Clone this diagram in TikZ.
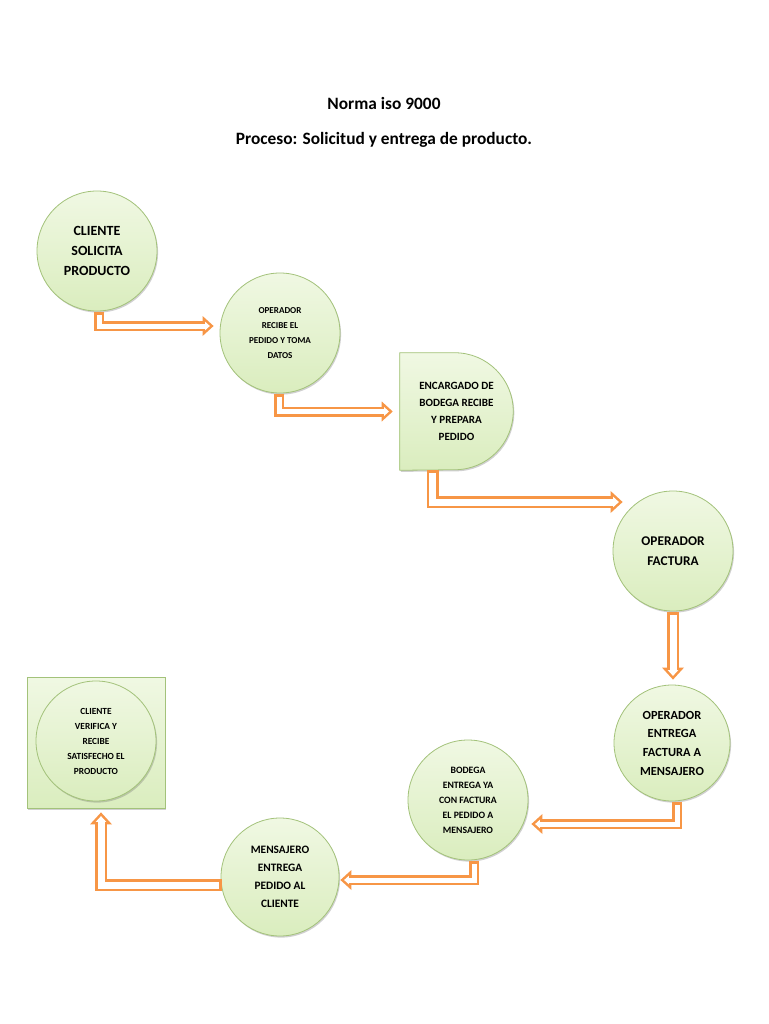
\documentclass[tikz,border=0pt]{standalone}
\usepackage{fontspec}
\setmainfont{Carlito}
\usetikzlibrary{arrows.meta,calc,shadows}
\definecolor{arr}{HTML}{F79646}
\definecolor{gborder}{HTML}{A3C27A}
\definecolor{gtop}{HTML}{F0F8E3}
\definecolor{gbot}{HTML}{DAEDBE}
\tikzset{
  gfill/.style={draw=gborder, line width=0.6pt, top color=gtop, bottom color=gbot,
    drop shadow={shadow xshift=0.8pt, shadow yshift=-1.2pt, opacity=0.3, fill=black!60}},
  proc/.style={circle, gfill, align=center, inner sep=0pt, minimum size=90pt, font=\bfseries},
  titletext/.style={font=\fontsize{13}{15}\selectfont\bfseries},
  arrOutS/.style={draw=arr, line width=7.5pt, line join=miter, -{Triangle[width=15pt,length=8.25pt,line width=0pt]}},
  arrInS/.style={draw=white, line width=3.75pt, line join=miter, shorten <=1.9pt, shorten >=2.8pt, -{Triangle[width=6.5pt,length=3.6pt,line width=0pt]}},
  arrOutB/.style={draw=arr, line width=9pt, line join=miter, -{Triangle[width=16.5pt,length=9pt,line width=0pt]}},
  arrInB/.style={draw=white, line width=5.25pt, line join=miter, shorten <=1.9pt, shorten >=2.8pt, -{Triangle[width=8pt,length=4.35pt,line width=0pt]}},
}
\newcommand\harrowS[1]{\draw[arrOutS] #1; \draw[arrInS] #1;}
\newcommand\harrowB[1]{\draw[arrOutB] #1; \draw[arrInB] #1;}
\begin{document}
\begin{tikzpicture}[x=0.75pt, y=-0.75pt]
\useasboundingbox (0,0) rectangle (768,1024);
\fill[white] (0,0) rectangle (768,1024);

\node[titletext] (t1) at (384,103) {Norma iso 9000};
\node[titletext] (t2) at (384,140) {Proceso: Solicitud y entrega de producto.};

\node[proc, font=\fontsize{10.5}{15}\selectfont\bfseries] (c1) at (97,251) {CLIENTE\\SOLICITA\\PRODUCTO};
\node[proc, font=\fontsize{6.8}{11.25}\selectfont\bfseries] (c2) at (280,333) {OPERADOR\\RECIBE EL\\PEDIDO Y TOMA\\DATOS};

\node[rectangle, minimum width=84.75pt, minimum height=87.75pt, inner sep=0pt] (d) at (456.5,411.5) {};
\path[gfill] (d.north west) -- ++(55,0) arc[start angle=90, end angle=-90, radius=43.875pt] -- (d.south west) -- cycle;
\node[align=center, font=\fontsize{8.3}{12.75}\selectfont\bfseries] (dt) at (d.center) {ENCARGADO DE\\BODEGA RECIBE\\Y PREPARA\\PEDIDO};

\node[proc, font=\fontsize{10}{15}\selectfont\bfseries] (c4) at (673,551) {OPERADOR\\FACTURA};
\node[proc, minimum size=87pt, font=\fontsize{9.3}{14}\selectfont\bfseries] (c5) at (672,743) {OPERADOR\\ENTREGA\\FACTURA A\\MENSAJERO};
\node[proc, font=\fontsize{7.3}{11.25}\selectfont\bfseries] (c6) at (468,800) {BODEGA\\ENTREGA YA\\CON FACTURA\\EL PEDIDO A\\MENSAJERO};
\node[proc, minimum size=88.5pt, font=\fontsize{8.5}{13.5}\selectfont\bfseries] (c7) at (280,877) {MENSAJERO\\ENTREGA\\PEDIDO AL\\CLIENTE};

\node[rectangle, gfill, minimum width=103.5pt, minimum height=98.25pt, inner sep=0pt] (sq) at (96,742.5) {};
\node[proc, font=\fontsize{7}{11.25}\selectfont\bfseries] (c8) at (96,741) {CLIENTE\\VERIFICA Y\\RECIBE\\SATISFECHO EL\\PRODUCTO};

\harrowS{($(c1.south)+(2,1)$) |- ($(c2.west)+(-6,-7)$)}
\harrowS{($(c2.south)+(-1,1)$) |- ($(d.west)+(-7,0)$)}
\harrowB{($(d.south west)+(33,0)$) |- ($(c4.west)+(10,-49)$)}
\harrowB{($(c4.south)+(0,1)$) -- ($(c5.north)+(1,-5)$)}
\harrowS{($(c5.south)+(5,1)$) |- ($(c6.east)+(3,24)$)}
\harrowS{($(c6.south)+(6,1)$) |- ($(c7.east)+(1,3)$)}
\harrowB{($(c7.west)+(1,8)$) -| ($(sq.south)+(5,4)$)}
\end{tikzpicture}
\end{document}
